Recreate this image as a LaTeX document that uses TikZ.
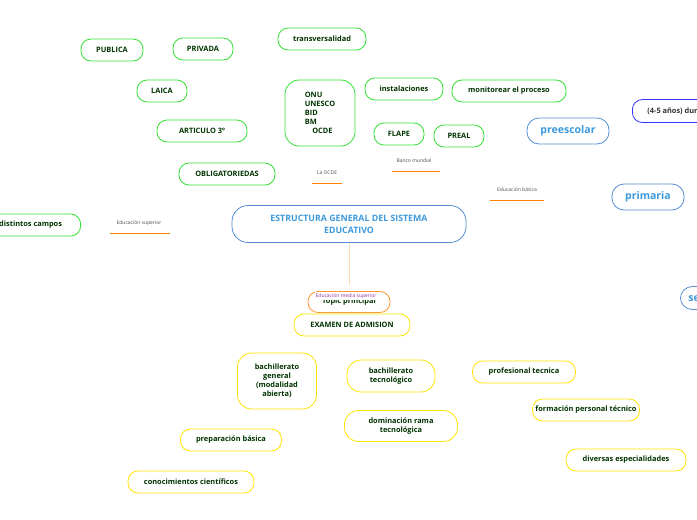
\documentclass[tikz,border=0pt]{standalone}
\usepackage{fontspec}
\setmainfont{Open Sans}
\begin{document}
\begin{tikzpicture}[x=1pt,y=-1pt,
 box/.style={draw,rounded corners=10pt,line width=0.8pt,minimum height=22pt,inner sep=2pt,font=\fontsize{7.4}{9}\selectfont\bfseries,text=green!20!black,align=center},
 gbox/.style={box,draw=green!85!black!80},
 ybox/.style={box,draw=yellow!85!orange},
 bbox/.style={box,draw=cyan!50!blue!70,rounded corners=12pt,minimum height=26pt,font=\fontsize{10.5}{12}\selectfont\bfseries,text=cyan!70!blue!80},
 lbl/.style={font=\fontsize{5}{6}\selectfont,text=black!70},
 ul/.style={draw=orange,line width=0.8pt}]
\useasboundingbox (0,0) rectangle (697,520);
\node[gbox,minimum width=62pt] (pub) at (112,50) {PUBLICA};
\node[gbox,minimum width=60pt] (pri) at (203,49) {PRIVADA};
\node[gbox,minimum width=88pt] (tra) at (322,39) {transversalidad};
\node[gbox,minimum width=50pt] (lai) at (162,91) {LAICA};
\node[gbox,minimum width=70pt,minimum height=66pt,align=left,rounded corners=14pt] (onu) at (320,113) {ONU\\UNESCO\\BID\\BM\\\quad OCDE};
\node[gbox,minimum width=78pt] (ins) at (404,89) {instalaciones};
\node[gbox,minimum width=114pt] (mon) at (509,91) {monitorear el proceso};
\node[gbox,minimum width=90pt] (art) at (202,131) {ARTICULO 3º};
\node[gbox,minimum width=50pt] (fla) at (399,134) {FLAPE};
\node[gbox,minimum width=50pt] (pre) at (459,136) {PREAL};
\node[gbox,minimum width=96pt] (obl) at (227,174) {OBLIGATORIEDAS};
\node[gbox,minimum width=100pt,anchor=east] (dis) at (81,225) {distintos campos};
\node[lbl] (locde) at (327,173) {La OCDE};
\draw[ul] (312,183) coordinate (a1) -- (342,183) coordinate (a2);
\node[lbl] (bm) at (414,161) {Banco mundial};
\draw[ul] (392,171) coordinate (b1) -- (440,171) coordinate (b2);
\node[lbl] (eb) at (517,190) {Educación básica};
\draw[ul] (490,200) coordinate (c1) -- (544,200) coordinate (c2);
\node[lbl] (es) at (139,223) {Educación superior};
\draw[ul] (110,233) coordinate (d1) -- (170,233) coordinate (d2);
\node[bbox,minimum width=82pt] (pres) at (568,131) {preescolar};
\node[bbox,minimum width=72pt] (prim) at (648,197) {primaria};
\node[box,draw=blue!80,minimum width=100pt,minimum height=23pt,anchor=west,text=black!80,inner xsep=8pt] (anos) at (632,111) {(4-5 años) duración};
\node[bbox,minimum width=60pt,anchor=west,minimum height=23pt,inner xsep=8pt] (sec) at (680,298) {secundaria};
\node[bbox,minimum width=234pt,minimum height=37pt,rounded corners=16pt,font=\fontsize{8.8}{12}\selectfont\bfseries] (main) at (349,224) {ESTRUCTURA GENERAL DEL SISTEMA\\EDUCATIVO};
\node[box,draw=orange!80,minimum width=82pt,minimum height=21pt] (top) at (349,302) {Topic principal};
\draw[orange!30,line width=0.8pt] (main.south) -- (349,285) coordinate (tp);
\node[font=\fontsize{5}{6}\selectfont,text=violet!80,fill=white,inner sep=1pt] (ems) at (346,296) {Educación media superior};
\node[ybox,minimum width=116pt] (exa) at (352,325) {EXAMEN DE ADMISION};
\node[ybox,minimum width=79pt,minimum height=56pt,rounded corners=14pt] (bg) at (277,381) {bachillerato\\general\\(modalidad\\abierta)};
\node[ybox,minimum width=88pt,minimum height=32pt,rounded corners=14pt] (bt) at (391,376) {bachillerato\\tecnológico};
\node[ybox,minimum width=103pt] (pt) at (524,372) {profesional tecnica};
\node[ybox,minimum width=107pt] (fp) at (586,410) {formación personal técnico};
\node[ybox,minimum width=113pt,minimum height=31pt,rounded corners=14pt] (dr) at (401,426) {dominación rama\\tecnológica};
\node[ybox,minimum width=101pt] (pb) at (231,440) {preparación básica};
\node[ybox,minimum width=120pt] (de) at (626,460) {diversas especialidades};
\node[ybox,minimum width=126pt] (cc) at (191,482) {conocimientos científicos};
\end{tikzpicture}
\end{document}
